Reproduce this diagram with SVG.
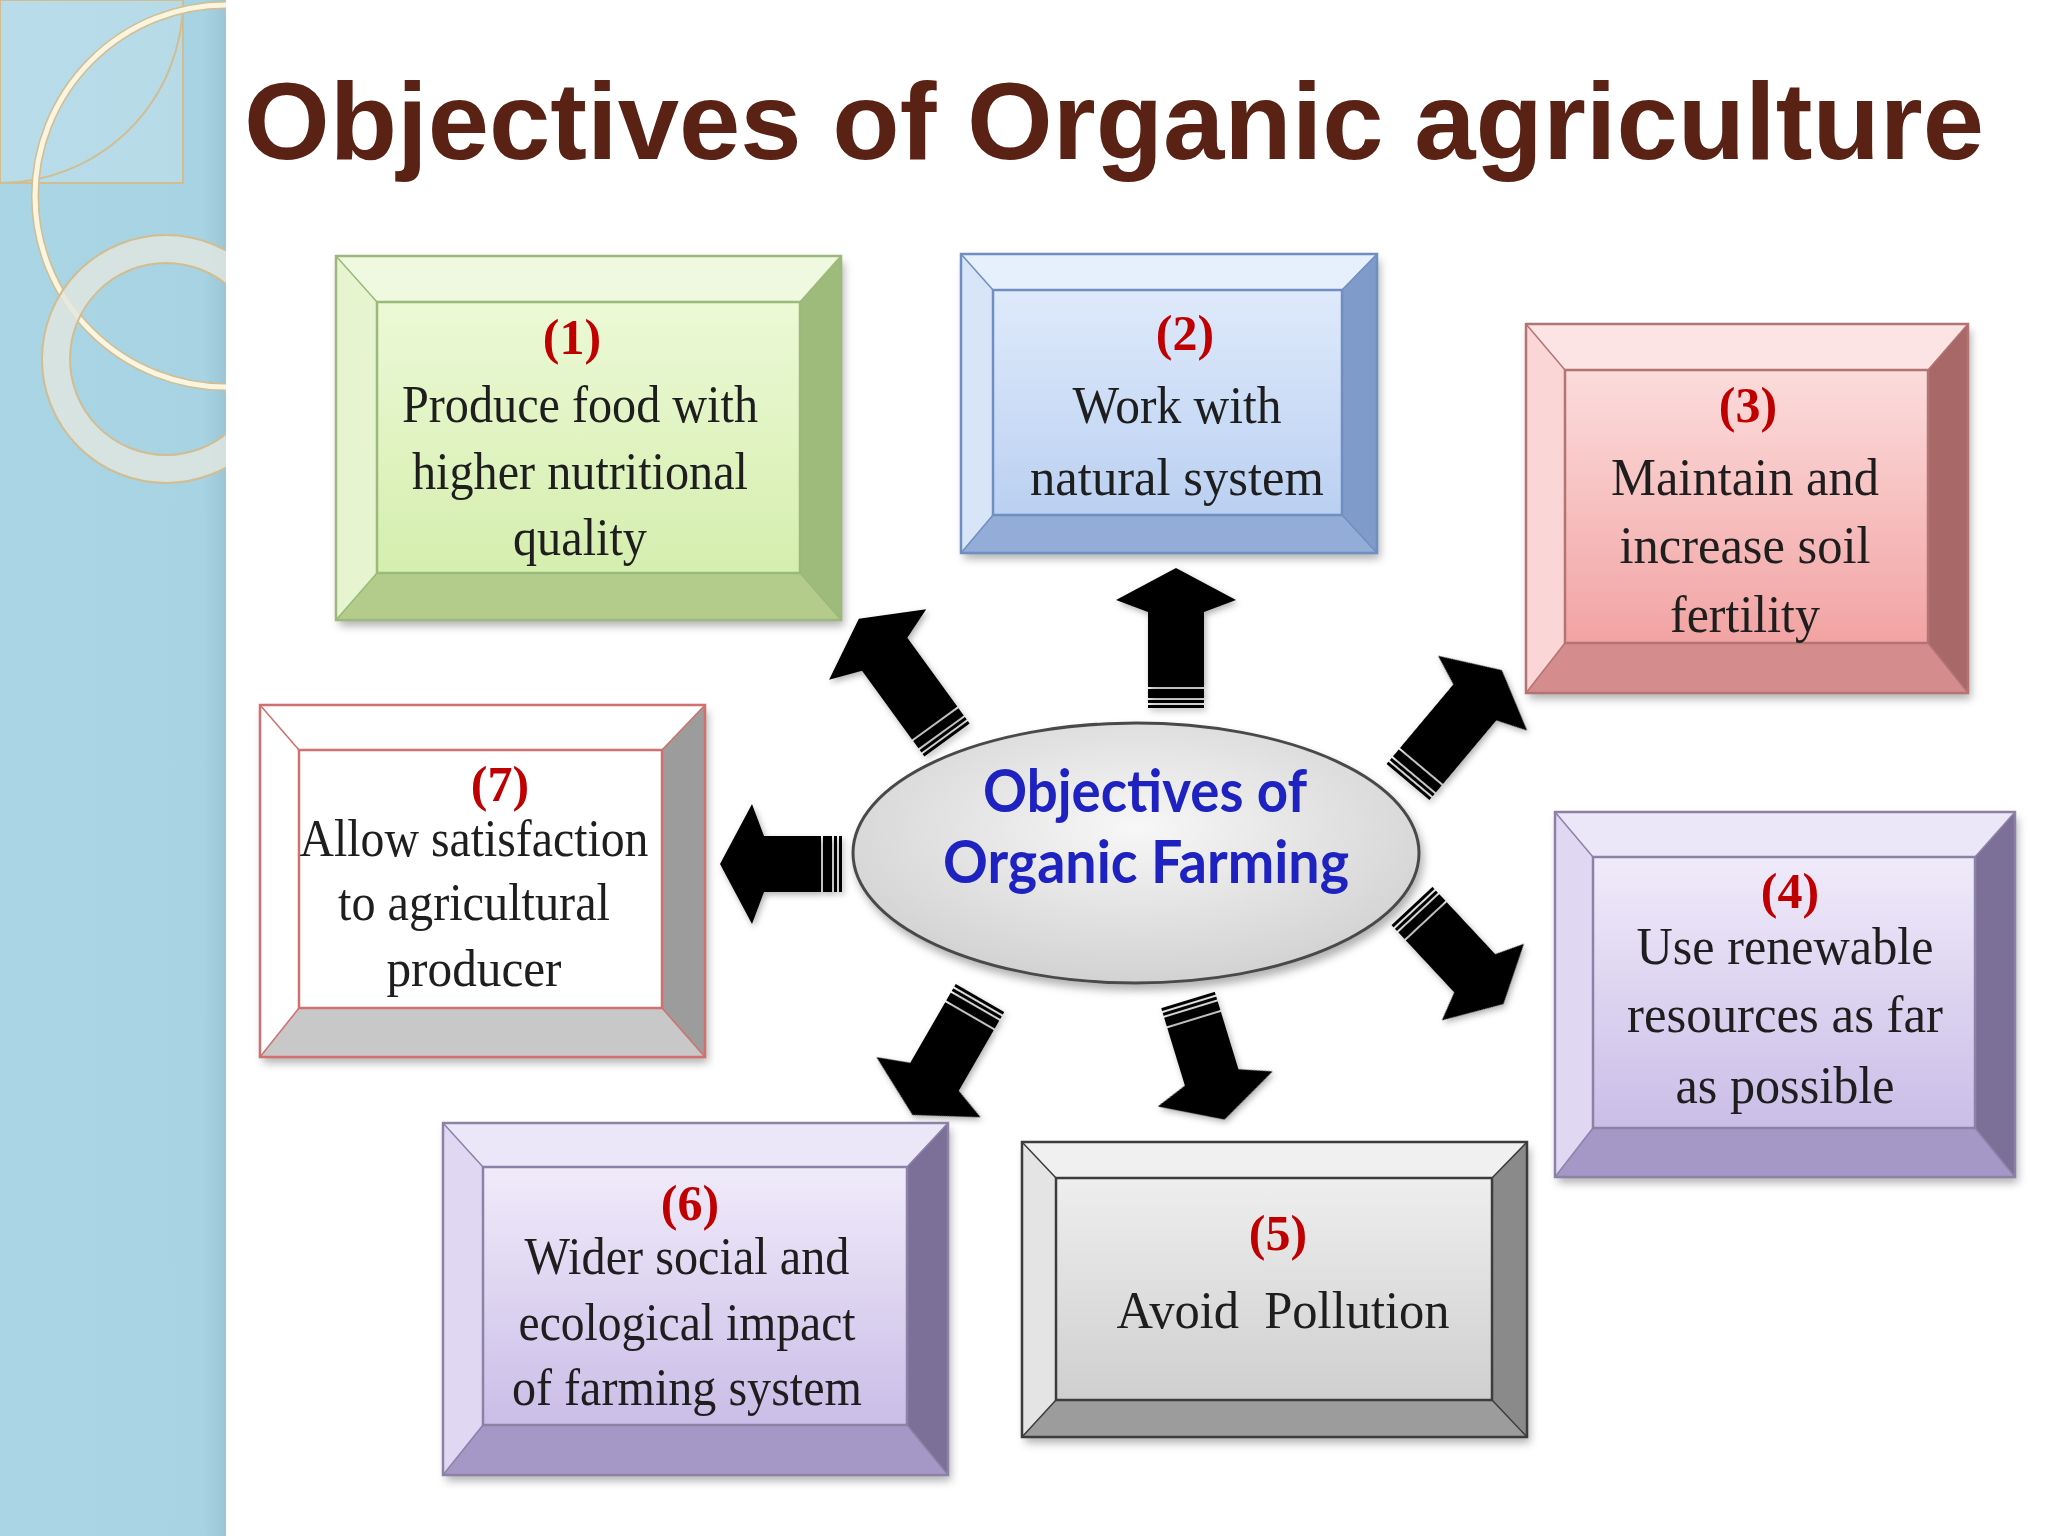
<svg xmlns="http://www.w3.org/2000/svg" width="2048" height="1536" viewBox="0 0 2048 1536">
<defs>
<style>
.t{font-family:"Liberation Serif","Times New Roman",serif;font-size:53px;fill:#1e1e1e;text-anchor:middle}
.n{font-family:"Liberation Serif","Times New Roman",serif;font-size:50px;font-weight:bold;fill:#c00000;text-anchor:middle}
.ell{font-family:Lato,"Open Sans",sans-serif;font-size:60px;font-weight:bold;fill:#1e22c0;text-anchor:middle}
.arrow{fill:#060606}
.g .edge{stroke:#9ab97a}
.bl .edge{stroke:#6f8fc2}
.pk .edge{stroke:#b57474}
.lv .edge{stroke:#8c82a8}
.gy .edge{stroke:#3c3c3c}
.wr .edge{stroke:#d07070}
.edge{fill:none;stroke-width:2.5}
.ln{stroke-width:1.5}
</style>
<clipPath id="side"><rect x="0" y="0" width="226" height="1536"/></clipPath>
<linearGradient id="sideG" x1="0" y1="0" x2="1" y2="0">
<stop offset="0" stop-color="#a9d5e4"/><stop offset="0.9" stop-color="#a7d3e2"/><stop offset="1" stop-color="#9cc6d6"/>
</linearGradient>
<linearGradient id="fG" x1="0" y1="0" x2="0" y2="1"><stop offset="0" stop-color="#ecf9d6"/><stop offset="1" stop-color="#d5eeae"/></linearGradient>
<linearGradient id="fB" x1="0" y1="0" x2="0" y2="1"><stop offset="0" stop-color="#dfeafb"/><stop offset="1" stop-color="#bad0f1"/></linearGradient>
<linearGradient id="fP" x1="0" y1="0" x2="0" y2="1"><stop offset="0" stop-color="#fcdcdc"/><stop offset="1" stop-color="#f2a3a3"/></linearGradient>
<linearGradient id="fL" x1="0" y1="0" x2="0" y2="1"><stop offset="0" stop-color="#f0ebfa"/><stop offset="1" stop-color="#cabde7"/></linearGradient>
<linearGradient id="fY" x1="0" y1="0" x2="0" y2="1"><stop offset="0" stop-color="#eeeeee"/><stop offset="1" stop-color="#cfcfcf"/></linearGradient>
<radialGradient id="eG" cx="0.5" cy="0.4" r="0.6"><stop offset="0" stop-color="#f7f7f7"/><stop offset="1" stop-color="#d2d2d2"/></radialGradient>
<filter id="sh" x="-10%" y="-10%" width="125%" height="130%"><feDropShadow dx="3" dy="6" stdDeviation="4" flood-color="#000" flood-opacity="0.3"/></filter>
<filter id="ash" x="-20%" y="-20%" width="140%" height="140%"><feDropShadow dx="2" dy="3" stdDeviation="3" flood-color="#000" flood-opacity="0.3"/></filter>
</defs>

<rect x="0" y="0" width="2048" height="1536" fill="#ffffff"/>

<g id="sidebar">
<rect x="0" y="0" width="226" height="1536" fill="url(#sideG)"/>
<g clip-path="url(#side)">
<rect x="0" y="0" width="183" height="183" fill="#ffffff" fill-opacity="0.18" stroke="#d2bd90" stroke-width="2"/>
<path d="M183,0 A183,183 0 0 1 0,183" fill="none" stroke="#d2bd90" stroke-width="2"/>
<circle cx="226" cy="196" r="191" fill="none" stroke="#d2bd90" stroke-width="8"/>
<circle cx="226" cy="196" r="191" fill="none" stroke="#faf5e0" stroke-width="5"/>
<circle cx="166" cy="359" r="110" fill="none" stroke="#e2e6e0" stroke-opacity="0.82" stroke-width="28"/>
<circle cx="166" cy="359" r="124" fill="none" stroke="#d2bd90" stroke-width="2"/>
<circle cx="166" cy="359" r="96" fill="none" stroke="#d2bd90" stroke-width="2"/>
</g>
</g>

<g id="title">
<text x="244" y="159" font-family="'Liberation Sans',Arial,sans-serif" font-size="110" font-weight="bold" fill="#5a2214" textLength="1740" lengthAdjust="spacingAndGlyphs">Objectives of Organic agriculture</text>
</g>

<g id="connectors" filter="url(#ash)">
<g class="arrow" transform="translate(947,740) rotate(-126)"><path d="M21,-28 H106 L118,-60 L150,0 L118,60 L106,28 H21 Z M0,-28h3v56h-3z M5,-28h3v56h-3z M10,-28h9v56h-9z"/></g>
<g class="arrow" transform="translate(1176,708) rotate(-90)"><path d="M21,-28 H96 L108,-60 L140,0 L108,60 L96,28 H21 Z M0,-28h3v56h-3z M5,-28h3v56h-3z M10,-28h9v56h-9z"/></g>
<g class="arrow" transform="translate(1408,782) rotate(-50)"><path d="M21,-28 H104 L116,-58 L146,0 L116,58 L104,28 H21 Z M0,-28h3v56h-3z M5,-28h3v56h-3z M10,-28h9v56h-9z"/></g>
<g class="arrow" transform="translate(1412,906) rotate(47)"><path d="M21,-28 H92 L104,-56 L134,0 L104,56 L92,28 H21 Z M0,-28h3v56h-3z M5,-28h3v56h-3z M10,-28h9v56h-9z"/></g>
<g class="arrow" transform="translate(1188,1000) rotate(73)"><path d="M21,-28 H81 L93,-60 L125,0 L93,60 L81,28 H21 Z M0,-28h3v56h-3z M5,-28h3v56h-3z M10,-28h9v56h-9z"/></g>
<g class="arrow" transform="translate(980,998) rotate(120)"><path d="M21,-28 H91 L103,-60 L135,0 L103,60 L91,28 H21 Z M0,-28h3v56h-3z M5,-28h3v56h-3z M10,-28h9v56h-9z"/></g>
<g class="arrow" transform="translate(842,864) rotate(180)"><path d="M21,-28 H78 L90,-60 L122,0 L90,60 L78,28 H21 Z M0,-28h3v56h-3z M5,-28h3v56h-3z M10,-28h9v56h-9z"/></g>
</g>

<g id="center">
<ellipse cx="1136" cy="853" rx="283" ry="130" fill="url(#eG)" stroke="#4a4a4a" stroke-width="3" filter="url(#sh)"/>
<text class="ell" x="1145" y="812" textLength="324" lengthAdjust="spacingAndGlyphs">Objectives of</text>
<text class="ell" x="1146" y="883" textLength="406" lengthAdjust="spacingAndGlyphs">Organic Farming</text>
</g>

<g id="box1" class="g">
<g filter="url(#sh)">
<polygon points="336,256 841,256 800,302 377,302" fill="#eff9df"/>
<polygon points="336,256 377,302 377,573 336,620" fill="#e6f5cf"/>
<polygon points="841,256 841,620 800,573 800,302" fill="#9fbb7c"/>
<polygon points="336,620 377,573 800,573 841,620" fill="#b3cc8c"/>
</g>
<rect x="377" y="302" width="423" height="271" fill="url(#fG)"/>
<path class="edge ln" d="M336,256 L377,302 M841,256 L800,302 M336,620 L377,573 M841,620 L800,573"/>
<rect class="edge" x="336" y="256" width="505" height="364"/>
<rect class="edge" x="377" y="302" width="423" height="271"/>
<text class="n" x="572" y="354">(1)</text>
<text class="t" x="580" y="422" textLength="356" lengthAdjust="spacingAndGlyphs">Produce food with</text>
<text class="t" x="580" y="489" textLength="336" lengthAdjust="spacingAndGlyphs">higher nutritional</text>
<text class="t" x="580" y="555" textLength="134" lengthAdjust="spacingAndGlyphs">quality</text>
</g>

<g id="box2" class="bl">
<g filter="url(#sh)">
<polygon points="961,254 1377,254 1342,290 993,290" fill="#e6effc"/>
<polygon points="961,254 993,290 993,515 961,553" fill="#d8e5f9"/>
<polygon points="1377,254 1377,553 1342,515 1342,290" fill="#7e9bc9"/>
<polygon points="961,553 993,515 1342,515 1377,553" fill="#93add8"/>
</g>
<rect x="993" y="290" width="349" height="225" fill="url(#fB)"/>
<path class="edge ln" d="M961,254 L993,290 M1377,254 L1342,290 M961,553 L993,515 M1377,553 L1342,515"/>
<rect class="edge" x="961" y="254" width="416" height="299"/>
<rect class="edge" x="993" y="290" width="349" height="225"/>
<text class="n" x="1185" y="350">(2)</text>
<text class="t" x="1177" y="423" textLength="209" lengthAdjust="spacingAndGlyphs">Work with</text>
<text class="t" x="1177" y="495" textLength="294" lengthAdjust="spacingAndGlyphs">natural system</text>
</g>

<g id="box3" class="pk">
<g filter="url(#sh)">
<polygon points="1526,324 1968,324 1928,370 1565,370" fill="#fde4e4"/>
<polygon points="1526,324 1565,370 1565,643 1526,693" fill="#fad6d6"/>
<polygon points="1968,324 1968,693 1928,643 1928,370" fill="#a86868"/>
<polygon points="1526,693 1565,643 1928,643 1968,693" fill="#d48c8c"/>
</g>
<rect x="1565" y="370" width="363" height="273" fill="url(#fP)"/>
<path class="edge ln" d="M1526,324 L1565,370 M1968,324 L1928,370 M1526,693 L1565,643 M1968,693 L1928,643"/>
<rect class="edge" x="1526" y="324" width="442" height="369"/>
<rect class="edge" x="1565" y="370" width="363" height="273"/>
<text class="n" x="1748" y="422">(3)</text>
<text class="t" x="1745" y="495" textLength="268" lengthAdjust="spacingAndGlyphs">Maintain and</text>
<text class="t" x="1745" y="563" textLength="251" lengthAdjust="spacingAndGlyphs">increase soil</text>
<text class="t" x="1745" y="632" textLength="150" lengthAdjust="spacingAndGlyphs">fertility</text>
</g>

<g id="box4" class="lv">
<g filter="url(#sh)">
<polygon points="1555,812 2015,812 1975,857 1593,857" fill="#ece7f8"/>
<polygon points="1555,812 1593,857 1593,1128 1555,1177" fill="#e0d8f2"/>
<polygon points="2015,812 2015,1177 1975,1128 1975,857" fill="#7d7098"/>
<polygon points="1555,1177 1593,1128 1975,1128 2015,1177" fill="#a698c6"/>
</g>
<rect x="1593" y="857" width="382" height="271" fill="url(#fL)"/>
<path class="edge ln" d="M1555,812 L1593,857 M2015,812 L1975,857 M1555,1177 L1593,1128 M2015,1177 L1975,1128"/>
<rect class="edge" x="1555" y="812" width="460" height="365"/>
<rect class="edge" x="1593" y="857" width="382" height="271"/>
<text class="n" x="1790" y="908">(4)</text>
<text class="t" x="1785" y="964" textLength="297" lengthAdjust="spacingAndGlyphs">Use renewable</text>
<text class="t" x="1785" y="1032" textLength="316" lengthAdjust="spacingAndGlyphs">resources as far</text>
<text class="t" x="1785" y="1103" textLength="219" lengthAdjust="spacingAndGlyphs">as possible</text>
</g>

<g id="box5" class="gy">
<g filter="url(#sh)">
<polygon points="1022,1142 1527,1142 1492,1178 1056,1178" fill="#f0f0f0"/>
<polygon points="1022,1142 1056,1178 1056,1400 1022,1437" fill="#e4e4e4"/>
<polygon points="1527,1142 1527,1437 1492,1400 1492,1178" fill="#8a8a8a"/>
<polygon points="1022,1437 1056,1400 1492,1400 1527,1437" fill="#9c9c9c"/>
</g>
<rect x="1056" y="1178" width="436" height="222" fill="url(#fY)"/>
<path class="edge ln" d="M1022,1142 L1056,1178 M1527,1142 L1492,1178 M1022,1437 L1056,1400 M1527,1437 L1492,1400"/>
<rect class="edge" x="1022" y="1142" width="505" height="295" stroke-width="4"/>
<rect class="edge" x="1056" y="1178" width="436" height="222" stroke-width="4"/>
<text class="n" x="1278" y="1250">(5)</text>
<text class="t" x="1283" y="1328" xml:space="preserve" textLength="333" lengthAdjust="spacingAndGlyphs">Avoid  Pollution</text>
</g>

<g id="box6" class="lv">
<g filter="url(#sh)">
<polygon points="443,1123 948,1123 907,1167 483,1167" fill="#ece7f8"/>
<polygon points="443,1123 483,1167 483,1425 443,1475" fill="#e0d8f2"/>
<polygon points="948,1123 948,1475 907,1425 907,1167" fill="#7d7098"/>
<polygon points="443,1475 483,1425 907,1425 948,1475" fill="#a698c6"/>
</g>
<rect x="483" y="1167" width="424" height="258" fill="url(#fL)"/>
<path class="edge ln" d="M443,1123 L483,1167 M948,1123 L907,1167 M443,1475 L483,1425 M948,1475 L907,1425"/>
<rect class="edge" x="443" y="1123" width="505" height="352"/>
<rect class="edge" x="483" y="1167" width="424" height="258"/>
<text class="n" x="690" y="1220">(6)</text>
<text class="t" x="687" y="1274" textLength="325" lengthAdjust="spacingAndGlyphs">Wider social and</text>
<text class="t" x="687" y="1340" textLength="337" lengthAdjust="spacingAndGlyphs">ecological impact</text>
<text class="t" x="687" y="1405" textLength="350" lengthAdjust="spacingAndGlyphs">of farming system</text>
</g>

<g id="box7" class="wr">
<g filter="url(#sh)">
<polygon points="260,705 705,705 662,750 299,750" fill="#ffffff"/>
<polygon points="260,705 299,750 299,1008 260,1057" fill="#ffffff"/>
<polygon points="705,705 705,1057 662,1008 662,750" fill="#9c9c9c"/>
<polygon points="260,1057 299,1008 662,1008 705,1057" fill="#c8c8c8"/>
</g>
<rect x="299" y="750" width="363" height="258" fill="#ffffff"/>
<path class="edge ln" d="M260,705 L299,750 M705,705 L662,750 M260,1057 L299,1008 M705,1057 L662,1008"/>
<rect class="edge" x="260" y="705" width="445" height="352" stroke-width="3.5"/>
<rect class="edge" x="299" y="750" width="363" height="258" stroke-width="3"/>
<text class="n" x="500" y="801">(7)</text>
<text class="t" x="474" y="856" textLength="349" lengthAdjust="spacingAndGlyphs">Allow satisfaction</text>
<text class="t" x="474" y="920" textLength="272" lengthAdjust="spacingAndGlyphs">to agricultural</text>
<text class="t" x="474" y="986" textLength="175" lengthAdjust="spacingAndGlyphs">producer</text>
</g>
</svg>
